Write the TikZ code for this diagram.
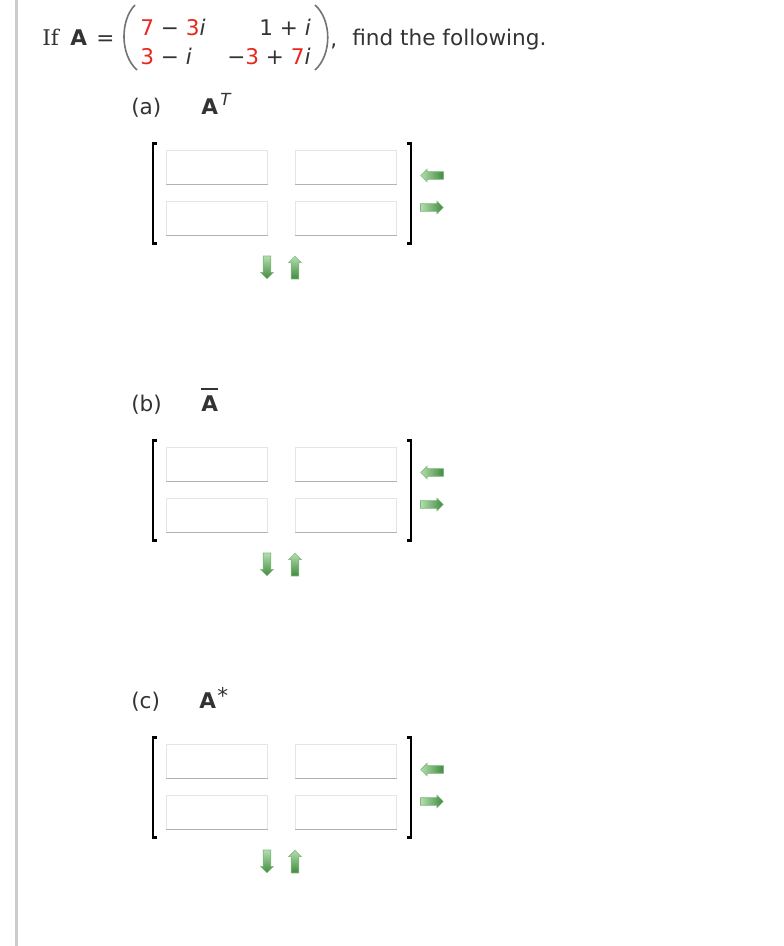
\documentclass[tikz,border=0pt]{standalone}
\usepackage{fontspec}
\setmainfont{DejaVu Sans}
\newfontfamily\iffont{DejaVu Serif}
\usetikzlibrary{shapes.arrows}
\definecolor{inktext}{HTML}{333333}
\definecolor{inkred}{HTML}{E8281E}
\definecolor{arrowedge}{HTML}{7DB87A}
\definecolor{arrowdark}{HTML}{3F8A3F}
\definecolor{arrowlight}{HTML}{B4DEAE}
\newcommand{\redpart}[1]{\textcolor{inkred}{#1}}
\tikzset{
    txt/.style = {anchor = base west, inner sep = 0, text = inktext, font = \fontsize{16.2}{18}\selectfont},
    sup/.style = {anchor = base west, inner sep = 0, text = inktext, font = \fontsize{12.5}{14}\selectfont\itshape},
    answerbox/.style = {draw = black!10, fill = white, line width = .6pt, minimum width = 75.5pt, minimum height = 25.5pt, inner sep = 0},
    greenarrow/.style = {single arrow, draw = arrowedge, line width = .5pt, inner sep = 2.6pt, minimum height = 17pt, minimum width = 0pt,
        single arrow head extend = 1.9pt, single arrow head indent = 0pt},
    sideways/.style = {greenarrow, left color = arrowlight, right color = arrowdark},
    upright/.style = {greenarrow, top color = arrowlight, bottom color = arrowdark}
}
\begin{document}
\begin{tikzpicture}[x = .75pt, y = -.75pt]
    \useasboundingbox (0,0) rectangle (784,946);

    % Draw the margin rule:
    \fill [black!20] (15,0) rectangle (17.5,946);

    % Draw the question line:
    \node [txt] (If) at (42,45) {\iffont If};
    \node [txt] (Name) at (70,45) {\textbf{A}};
    \node [txt] (Equals) at (96,45) {=};
    \draw [black!55, line width = 1.2pt] (135,5) .. controls (120,20) and (120,55) .. (137,70);
    \draw [black!55, line width = 1.2pt] (315,5) .. controls (332,20) and (332,55) .. (315,70);
    \node [txt] (EntryA) at (140,35) {\redpart{7} − \redpart{3}\textit{i}};
    \node [txt] (EntryB) at (259,35) {1 + \textit{i}};
    \node [txt] (EntryC) at (140,64) {\redpart{3} − \textit{i}};
    \node [txt] (EntryD) at (227,64) {−\redpart{3} + \redpart{7}\textit{i}};
    \node [txt] (Comma) at (330,46) {,};
    \node [txt] (Find) at (352,45) {find the following.};

    % Draw the three answer blocks:
    \foreach \part/\shift/\letter in {a/0/(a), b/297/(b), c/594/(c)} {
        \node [txt] (Label-\part) at (131,114+\shift) {\letter};

        \draw [black, line width = 1.6pt] (157,143.5+\shift) -- (153,143.5+\shift) -- (153,243.5+\shift) -- (157,243.5+\shift);
        \draw [black, line width = 1.6pt] (407,143.5+\shift) -- (411,143.5+\shift) -- (411,243.5+\shift) -- (407,243.5+\shift);

        \foreach \col/\x in {1/217, 2/346}
            \foreach \row/\y in {1/167.5, 2/218.5} {
                \node [answerbox] (Box-\part-\col-\row) at (\x,\y+\shift) {};
                \draw [black!30, line width = .8pt] (Box-\part-\col-\row.south west) -- (Box-\part-\col-\row.south east);
            }

        \node [sideways, shape border rotate = 180] (Left-\part) at (434,175.5+\shift) {};
        \node [sideways] (Right-\part) at (430,207.5+\shift) {};
        \node [upright, shape border rotate = 270] (Down-\part) at (267,265.5+\shift) {};
        \node [upright, shape border rotate = 90] (Up-\part) at (295,269.5+\shift) {};
    }

    % Draw the three names:
    \node [txt] (NameT) at (201,114) {\textbf{A}};
    \node [sup] (SupT) at (220,105) {T};
    \node [txt] (NameBar) at (201,411) {\textbf{A}};
    \draw [inktext, line width = .9pt] (201,389) -- (218,389);
    \node [txt] (NameStar) at (199,708) {\textbf{A}};
    \node [sup, font = \fontsize{16.2}{18}\selectfont] (SupStar) at (217,703) {*};
\end{tikzpicture}
\end{document}
